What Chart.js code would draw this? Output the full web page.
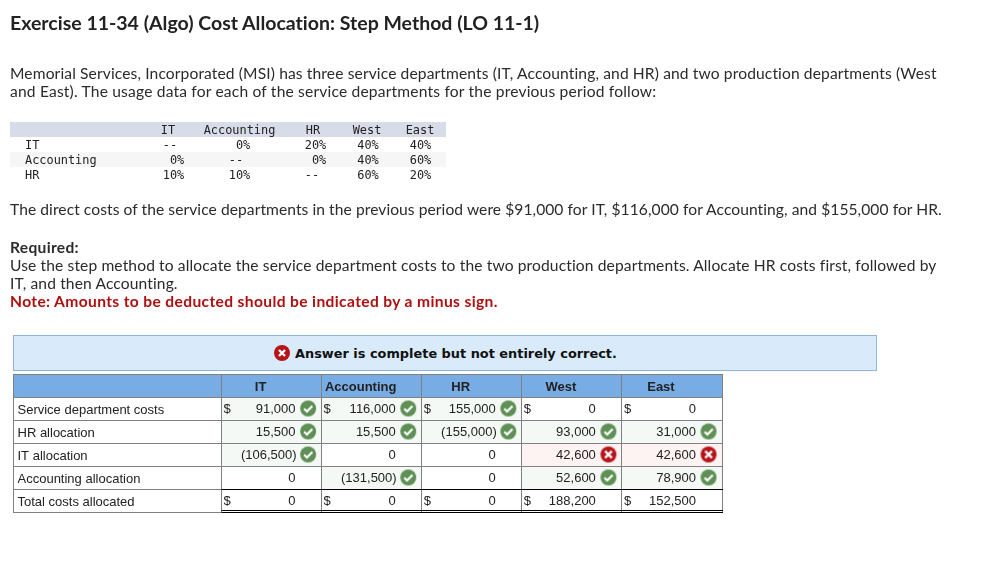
<!DOCTYPE html>
<html>
<head>
<meta charset="utf-8">
<title>Exercise 11-34</title>
<script src="https://cdn.jsdelivr.net/npm/chart.js@4"></script>
<style>
  html, body { margin: 0; padding: 0; background: #fff; }
  body { width: 992px; height: 572px; position: relative; overflow: hidden; font-family: Lato, sans-serif; color: #2b2b2b; font-variant-ligatures: none; }
  .line { position: absolute; left: 10px; white-space: nowrap; font-size: 15.6px; line-height: 18px; }
  .bold { font-weight: 700; }
  #title { top: 11px; font-size: 19.5px; line-height: 24px; font-weight: 700; color: #222; }
  #note { color: #b00f0f; }
  #banner { position: absolute; left: 13px; top: 335px; width: 862px; height: 34px; background: #d9ebfa; border: 1px solid #8fb5dc; }
  #bannerText { position: absolute; left: 281px; top: 10px; white-space: nowrap; font: bold 12.9px "DejaVu Sans", sans-serif; color: #111; }
  #bannerIcon { position: absolute; left: 260px; top: 9px; }
  #usageChart { position: absolute; left: 10px; top: 122px; }
  #costChart { position: absolute; left: 0; top: 0; }
</style>
</head>
<body>
<canvas id="usageChart" width="436" height="60"></canvas>
<canvas id="costChart" width="992" height="572"></canvas>

<div class="line" id="title">Exercise 11-34 (Algo) Cost Allocation: Step Method (LO 11-1)</div>
<div class="line" style="top:64px;letter-spacing:.12px">Memorial Services, Incorporated (MSI) has three service departments (IT, Accounting, and HR) and two production departments (West</div>
<div class="line" style="top:82px;letter-spacing:.18px">and East). The usage data for each of the service departments for the previous period follow:</div>
<div class="line" style="top:200px;letter-spacing:.07px">The direct costs of the service departments in the previous period were $91,000 for IT, $116,000 for Accounting, and $155,000 for HR.</div>
<div class="line bold" style="top:238px;letter-spacing:.3px">Required:</div>
<div class="line" style="top:256px;letter-spacing:.12px">Use the step method to allocate the service department costs to the two production departments. Allocate HR costs first, followed by</div>
<div class="line" style="top:274px;letter-spacing:.12px">IT, and then Accounting.</div>
<div class="line bold" id="note" style="top:292px;letter-spacing:.36px">Note: Amounts to be deducted should be indicated by a minus sign.</div>

<div id="banner">
  <svg id="bannerIcon" width="16" height="16" viewBox="0 0 16 16">
    <circle cx="8" cy="8" r="8" fill="#b7141a"></circle>
    <path d="M5 5L11 11M11 5L5 11" stroke="#fff" stroke-width="2.4"></path>
  </svg>
  <div id="bannerText">Answer is complete but not entirely correct.</div>
</div>

<script>
// usage table
const usageColumns = ["IT", "Accounting", "HR", "West", "East"];
const usageRows = ["IT", "Accounting", "HR"];
const usageIT = ["-- ", " 0%", "10%"];
const usageAccounting = [" 0%", "-- ", "10%"];
const usageHR = ["20%", " 0%", "-- "];
const usageWest = ["40%", "40%", "60%"];
const usageEast = ["40%", "60%", "20%"];

// cost allocation table
const departments = ["IT", "Accounting", "HR", "West", "East"];
const allocationRows = ["Service department costs", "HR allocation", "IT allocation", "Accounting allocation", "Total costs allocated"];
const itCosts = [91000, 15500, -106500, 0, 0];
const accountingCosts = [116000, 15500, 0, -131500, 0];
const hrCosts = [155000, -155000, 0, 0, 0];
const westCosts = [0, 93000, 42600, 52600, 188200];
const eastCosts = [0, 31000, 42600, 78900, 152500];
const itMarks = ["ok", "ok", "ok", "", ""];
const accountingMarks = ["ok", "ok", "", "ok", ""];
const hrMarks = ["ok", "ok", "", "", ""];
const westMarks = ["", "ok", "bad", "ok", ""];
const eastMarks = ["", "ok", "bad", "ok", ""];
const dollarRows = ["Service department costs", "Total costs allocated"];

const usageValues = [usageIT, usageAccounting, usageHR, usageWest, usageEast];
const allCosts = [itCosts, accountingCosts, hrCosts, westCosts, eastCosts];
const allMarks = [itMarks, accountingMarks, hrMarks, westMarks, eastMarks];

// centre of each column in the preformatted usage table
const usageValueX = [173.5, 239.5, 315.5, 368, 420.5];
const usageHeaderX = [168, 239.5, 313, 367, 420];

const tableFont = '13px "Liberation Sans", Arial, sans-serif';
const monoFont = '11.9px "DejaVu Sans Mono", monospace';
const lineColor = "#808080";
const iconOffset = 36.6;

function formatCost(value) {
  const text = Math.abs(value).toLocaleString("en-US");
  return value < 0 ? `(${text})` : text;
}

// icon drawn off-centre so that the point at the cell centre lands next to the number
function makeIcon(kind) {
  const canvas = document.createElement("canvas");
  canvas.width = 2 * (iconOffset + 9);
  canvas.height = 18;
  const ctx = canvas.getContext("2d");
  const cx = canvas.width / 2 + iconOffset;
  ctx.beginPath();
  ctx.arc(cx, 9, 8, 0, Math.PI * 2);
  ctx.fillStyle = kind === "ok" ? "#5e8f55" : "#b7141a";
  ctx.fill();
  ctx.strokeStyle = "#fff";
  ctx.lineWidth = 2.2;
  ctx.beginPath();
  if (kind === "ok") {
    ctx.moveTo(cx - 4, 9.2);
    ctx.lineTo(cx - 1.2, 12);
    ctx.lineTo(cx + 4.2, 6.4);
  } else {
    ctx.moveTo(cx - 3.4, 5.6);
    ctx.lineTo(cx + 3.4, 12.4);
    ctx.moveTo(cx + 3.4, 5.6);
    ctx.lineTo(cx - 3.4, 12.4);
  }
  ctx.stroke();
  return canvas;
}

function marksOf(kind) {
  const points = [];
  departments.forEach((dept, c) => {
    allocationRows.forEach((row, r) => {
      if (allMarks[c][r] === kind) points.push({ x: dept, y: row });
    });
  });
  return points;
}

const usageTablePlugin = {
  id: "usageTable",
  beforeDraw(chart) {
    const { ctx, scales: { y } } = chart;
    const band = (y.getPixelForValue("Accounting") - y.getPixelForValue("IT"));
    ctx.save();
    ctx.fillStyle = "#d8dce8";
    ctx.fillRect(0, y.getPixelForValue("") - band / 2, chart.width, band);
    ctx.fillStyle = "#f6f6f6";
    ctx.fillRect(0, y.getPixelForValue("Accounting") - band / 2, chart.width, band);
    ctx.restore();
  },
  afterDraw(chart) {
    const { ctx, scales: { x, y } } = chart;
    ctx.save();
    ctx.font = monoFont;
    ctx.fillStyle = "#222";
    ctx.textBaseline = "middle";
    ctx.textAlign = "center";
    usageColumns.forEach((name, c) => {
      ctx.fillText(name, x.getPixelForValue(usageHeaderX[c]), y.getPixelForValue("") + 1);
      usageRows.forEach((row, r) => {
        ctx.fillText(usageValues[c][r], x.getPixelForValue(usageValueX[c]), y.getPixelForValue(row) + 1);
      });
    });
    ctx.textAlign = "left";
    usageRows.forEach(row => ctx.fillText(row, x.getPixelForValue(25), y.getPixelForValue(row) + 1));
    ctx.restore();
  }
};

new Chart(document.getElementById("usageChart"), {
  type: "scatter",
  data: { datasets: [] },
  options: {
    responsive: false,
    animation: false,
    plugins: { legend: { display: false }, tooltip: { enabled: false } },
    layout: { padding: 0 },
    scales: {
      x: { type: "linear", min: 10, max: 446, display: false },
      y: { type: "category", labels: ["", ...usageRows], offset: true, display: false }
    }
  },
  plugins: [usageTablePlugin]
});

const costTablePlugin = {
  id: "costTable",
  beforeDraw(chart) {
    const { ctx, chartArea: area, scales: { x, y } } = chart;
    const colWidth = area.width / departments.length;
    const rowHeight = area.height / allocationRows.length;
    ctx.save();
    // header band
    ctx.fillStyle = "#78ace4";
    ctx.fillRect(13, x.top, area.right - 13, x.height);
    // tinted cells
    departments.forEach((dept, c) => {
      allocationRows.forEach((row, r) => {
        const mark = allMarks[c][r];
        if (!mark) return;
        ctx.fillStyle = mark === "ok" ? "#f5f9f5" : "#fdf3f2";
        ctx.fillRect(x.getPixelForValue(dept) - colWidth / 2, y.getPixelForValue(row) - rowHeight / 2, colWidth, rowHeight);
      });
    });
    ctx.restore();
  },
  afterDraw(chart) {
    const { ctx, chartArea: area, scales: { x, y } } = chart;
    const colWidth = area.width / departments.length;
    ctx.save();
    // outer frame not covered by the axes
    ctx.fillStyle = lineColor;
    ctx.fillRect(13, x.top, area.right - 13, 1);
    ctx.fillRect(13, x.top, 1, area.bottom - x.top + 1);
    // total row rules
    ctx.fillStyle = "#000";
    const totalTop = y.getPixelForValue("Total costs allocated") - area.height / allocationRows.length / 2;
    ctx.fillRect(area.left, Math.round(totalTop), area.width + 1, 1);
    ctx.fillRect(area.left, area.bottom - 2, area.width + 1, 1);
    ctx.fillRect(area.left, area.bottom, area.width + 1, 1);
    // numbers
    ctx.font = tableFont;
    ctx.fillStyle = "#222";
    ctx.textBaseline = "middle";
    departments.forEach((dept, c) => {
      const cx = x.getPixelForValue(dept);
      allocationRows.forEach((row, r) => {
        const py = y.getPixelForValue(row) + 1;
        const value = allCosts[c][r];
        ctx.textAlign = "right";
        ctx.fillText(formatCost(value), cx + 24 + (value < 0 ? 1 : 0), py);
        if (dollarRows.includes(row)) {
          ctx.textAlign = "left";
          ctx.fillText("$", cx - colWidth / 2 + 2, py);
        }
      });
    });
    ctx.restore();
  }
};

new Chart(document.getElementById("costChart"), {
  type: "scatter",
  data: {
    datasets: [
      { label: "Correct", data: marksOf("ok"), pointStyle: makeIcon("ok"), pointRadius: 3 },
      { label: "Incorrect", data: marksOf("bad"), pointStyle: makeIcon("bad"), pointRadius: 3 }
    ]
  },
  options: {
    responsive: false,
    animation: false,
    plugins: { legend: { display: false }, tooltip: { enabled: false } },
    layout: { padding: { left: 17.5, top: 374, right: 270, bottom: 60 } },
    scales: {
      x: {
        type: "category",
        labels: departments,
        position: "top",
        offset: true,
        grid: { offset: true, color: lineColor, tickLength: 23 },
        border: { color: lineColor },
        ticks: {
          autoSkip: false, maxRotation: 0, padding: -21, labelOffset: -11, color: "#222",
          font: { family: '"Liberation Sans", Arial, sans-serif', size: 13, weight: "bold" }
        },
        afterFit(scale) { scale.height = 23; }
      },
      y: {
        type: "category",
        labels: allocationRows,
        offset: true,
        grid: { offset: true, color: lineColor, tickLength: 208 },
        border: { color: lineColor },
        ticks: {
          autoSkip: false, crossAlign: "far", labelOffset: 1.5, color: "#222",
          font: { family: '"Liberation Sans", Arial, sans-serif', size: 13 }
        },
        afterFit(scale) { scale.width = 204; }
      }
    }
  },
  plugins: [costTablePlugin]
});
</script>
</body>
</html>
